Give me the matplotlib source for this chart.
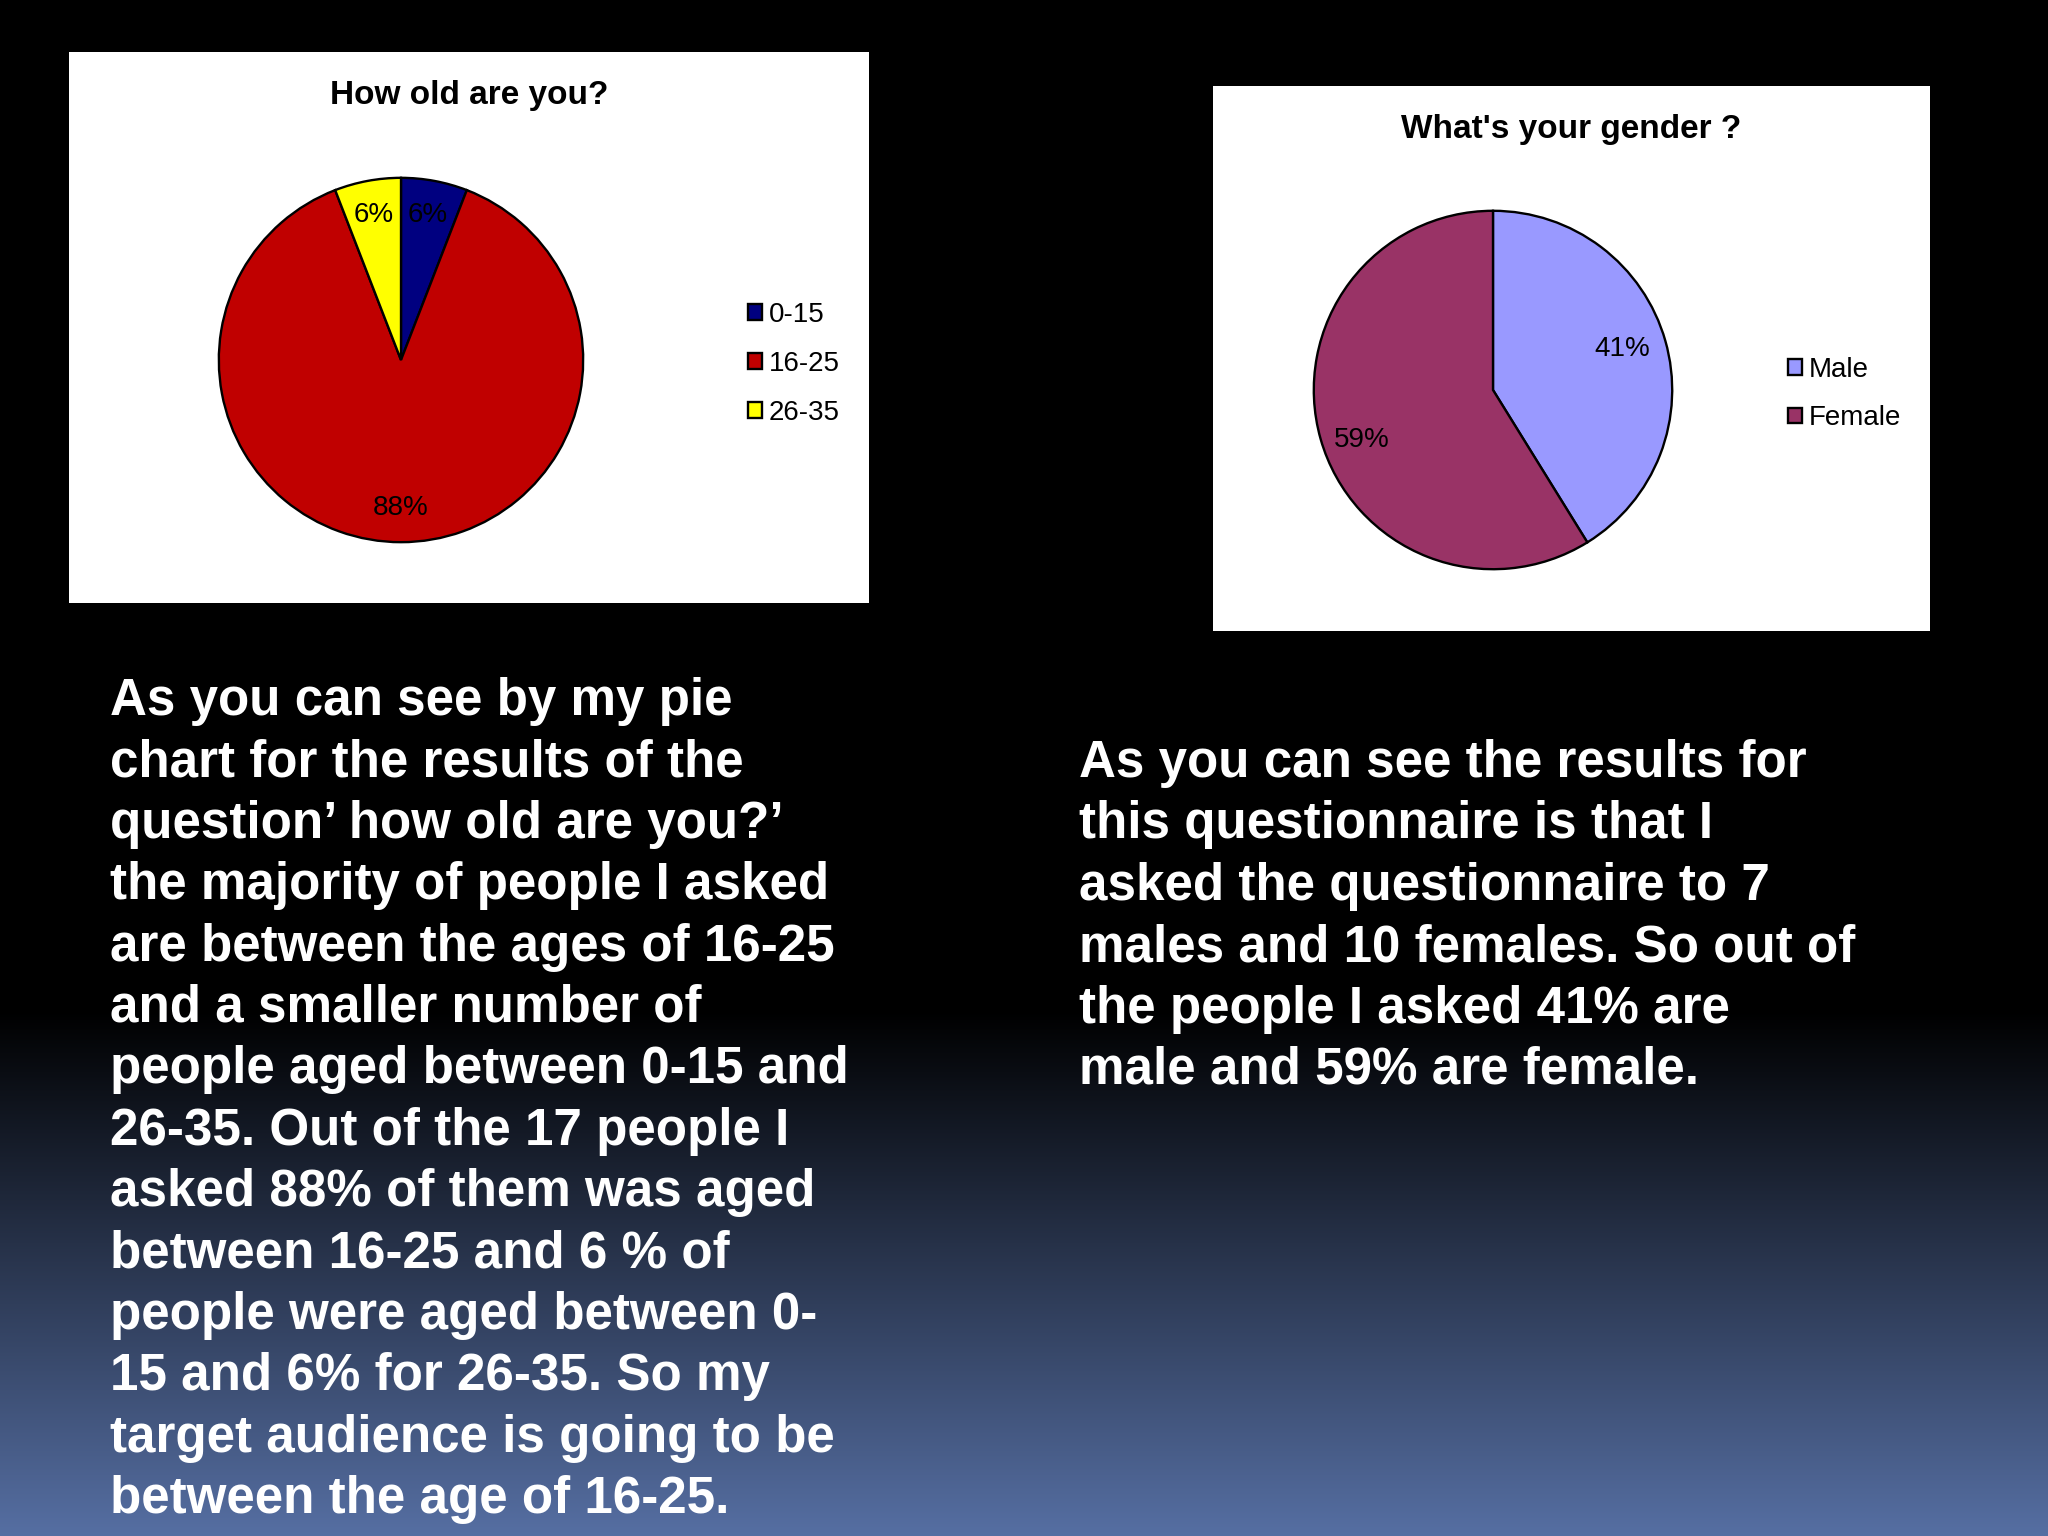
import numpy as np
import matplotlib
matplotlib.use('Agg')
import matplotlib.pyplot as plt

plt.rcParams['font.family'] = ['Liberation Sans', 'DejaVu Sans']

# survey data (17 people asked)
age_groups = ['0-15', '16-25', '26-35']
age_counts = [1, 15, 1]
age_colors = ['#000080', '#C00000', '#FFFF00']

genders = ['Male', 'Female']
gender_counts = [7, 10]
gender_colors = ['#9999FF', '#993366']

left_text = [
    "As you can see by my pie",
    "chart for the results of the",
    "question\u2019 how old are you?\u2019",
    "the majority of people I asked",
    "are between the ages of 16-25",
    "and a smaller number of",
    "people aged between 0-15 and",
    "26-35. Out of the 17 people I",
    "asked 88% of them was aged",
    "between 16-25 and 6 % of",
    "people were aged between 0-",
    "15 and 6% for 26-35. So my",
    "target audience is going to be",
    "between the age of 16-25.",
]
right_text = [
    "As you can see the results for",
    "this questionnaire is that I",
    "asked the questionnaire to 7",
    "males and 10 females. So out of",
    "the people I asked 41% are",
    "male and 59% are female.",
]

W, H = 2048, 1536
fig = plt.figure(figsize=(W / 100, H / 100), dpi=100)


def px_axes(x0, y0, w, h, **kw):
    return fig.add_axes([x0 / W, 1 - (y0 + h) / H, w / W, h / H], **kw)


# slide background: black fading to blue at the bottom
bg = px_axes(0, 0, W, H)
rows = np.arange(H)
t = np.clip((rows - 1010) / (H - 1010), 0, 1)
bottom = np.array([86, 111, 163]) / 255
grad = (t[:, None] * bottom[None, :])[:, None, :]
bg.imshow(grad, aspect='auto', extent=(0, W, H, 0))
bg.set_xlim(0, W)
bg.set_ylim(H, 0)
bg.axis('off')

# white chart boxes
box1 = px_axes(69, 52, 800, 551)
box2 = px_axes(1213, 86, 717, 545)
for b in (box1, box2):
    b.set_facecolor('white')
    b.set_xticks([])
    b.set_yticks([])
    for s in b.spines.values():
        s.set_visible(False)

fig.text(469 / W, 1 - 104 / H, 'How old are you?', ha='center', va='baseline',
         fontsize=24, fontweight='bold', color='black')
fig.text(1571 / W, 1 - 138 / H, "What's your gender ?", ha='center', va='baseline',
         fontsize=24, fontweight='bold', color='black')

# age pie
ax1 = px_axes(217, 176, 368, 368)
w1, _, p1 = ax1.pie(age_counts, colors=age_colors, startangle=90, counterclock=False,
                    autopct='%1.0f%%', pctdistance=0.81,
                    wedgeprops=dict(edgecolor='black', linewidth=1.7),
                    textprops=dict(fontsize=20, color='black'))
ax1.set_xlim(-1.01, 1.01)
ax1.set_ylim(-1.01, 1.01)

# gender pie
ax2 = px_axes(1312, 209, 362, 362)
w2, _, p2 = ax2.pie(gender_counts, colors=gender_colors, startangle=90, counterclock=False,
                    autopct='%1.0f%%', pctdistance=0.76,
                    wedgeprops=dict(edgecolor='black', linewidth=1.7),
                    textprops=dict(fontsize=20, color='black'))
ax2.set_xlim(-1.01, 1.01)
ax2.set_ylim(-1.01, 1.01)
# Excel put the labels a touch differently
x, y = p2[0].get_position()
p2[0].set_position((x - 0.01, y + 0.02))
x, y = p2[1].get_position()
p2[1].set_position((x, y - 0.07))

leg_kw = dict(loc='center left', frameon=False, fontsize=20, borderpad=0,
              handlelength=0.5, handleheight=0.5, handletextpad=0.25,
              labelspacing=0.82, borderaxespad=0)
fig.legend(w1, age_groups, bbox_to_anchor=(748 / W, 1 - 364 / H), **leg_kw)
fig.legend(w2, genders, bbox_to_anchor=(1788 / W, 1 - 394 / H), **leg_kw)

# body text
for i, line in enumerate(left_text):
    fig.text(110 / W, 1 - (715 + i * 61.4) / H, line, ha='left', va='baseline',
             fontsize=36.8, fontweight='bold', color='white')
for i, line in enumerate(right_text):
    fig.text(1079 / W, 1 - (777 + i * 61.4) / H, line, ha='left', va='baseline',
             fontsize=36.8, fontweight='bold', color='white')

fig.savefig('out.png', dpi=100)
